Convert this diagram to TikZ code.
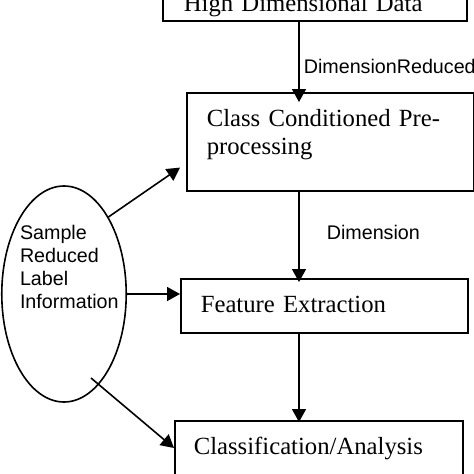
\documentclass[tikz,border=0pt]{standalone}
\usepackage{fontspec}
\setmainfont{Liberation Serif}
\setsansfont{Liberation Sans}
\usepackage{tikz}
\usetikzlibrary{arrows.meta,shapes.geometric}

\begin{document}
\begin{tikzpicture}[x=1pt, y=-1pt, line width=1.6pt,
    box/.style={draw, rectangle, anchor=north west, align=left, inner ysep=0pt, inner xsep=20pt, font=\fontsize{24.7}{28}\selectfont},
    lab/.style={font=\sffamily\fontsize{19.7}{23}\selectfont, inner sep=0pt},
    flow/.style={-{Triangle[length=13pt,width=14pt]}}]
   % Frame of the picture (pixels, y downwards)
   \useasboundingbox (0,0) rectangle (474,474);
    % Boxes of the chain
    \node[box, anchor=south west, text width=262pt, inner xsep=21pt, text height=30pt, text depth=10pt] (high) at (162,22) {High Dimensional Data};
    \node[box, text width=247pt, text height=34pt, text depth=64pt] (pre) at (186,92) {Class Conditioned Pre-\\processing};
    \node[box, text width=247pt, text height=34pt, text depth=20pt] (feat) at (180,278) {Feature Extraction};
    \node[box, text width=250pt, inner xsep=19pt, text height=34pt, text depth=50pt] (cls) at (174,420) {Classification/Analysis};

    % Side information
    \node[lab, ellipse, draw, minimum width=124pt, minimum height=216pt, text width=88pt, align=left, text height=14pt, text depth=124pt] (info) at (64,294) {Sample\\Reduced\\Label\\Information};

    % Main arrows
    \coordinate (spine) at (299,0);
    \draw[flow] (spine |- high.south) -- ([yshift=-10pt]spine |- pre.north);
    \draw[flow] (spine |- pre.south) -- ([yshift=-4pt]spine |- feat.north);
    \draw[flow] (spine |- feat.south) -- ([yshift=-2pt]spine |- cls.north);
    \node[lab, anchor=base west] (redlab) at (303,73) {DimensionReduced};
    \node[lab, anchor=base west] (dimlab) at (326,239) {Dimension};

    % Arrows from the ellipse
    \draw[flow] (info.60) -- ([xshift=-6pt,yshift=24pt]pre.south west);
    \draw[flow] (info.east) -- (info.east -| feat.west);
    \draw[flow] ([xshift=27pt,yshift=-84pt]info.center) -- ([yshift=-28pt]cls.north west);
\end{tikzpicture}
\end{document}
